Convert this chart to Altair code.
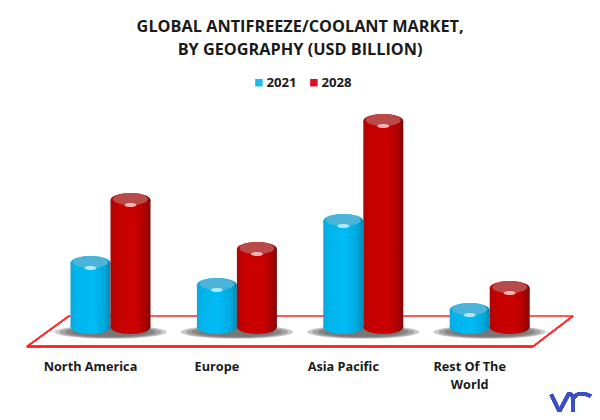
import altair as alt
import pandas as pd

regions = ["North America", "Europe", "Asia Pacific", "Rest Of The World"]
v2021 = [6.4, 4.2, 10.6, 1.7]
v2028 = [12.7, 7.8, 20.6, 3.9]
zeros = [0, 0, 0, 0]
years = ["2021", "2028"]

rows = [{"region": r, "year": "2021", "value": v, "base": z} for r, v, z in zip(regions, v2021, zeros)]
rows += [{"region": r, "year": "2028", "value": v, "base": z} for r, v, z in zip(regions, v2028, zeros)]
df = pd.DataFrame(rows)

FONT = "Open Sans"
ELL = "M-1,0 A1,.35 0 1,1 1,0 A1,.35 0 1,1 -1,0 Z"
SHADOW = "M-1,0 A1,.12 0 1,1 1,0 A1,.12 0 1,1 -1,0 Z"
LOGO = "M-.99,-.43 L-.58,.42 L-.13,-.43 Q0,-.5 .1,-.3 L.1,.42 M.1,-.2 Q.3,-.52 .55,-.45 Q.8,-.48 .98,-.34"


def grad(stops):
    return alt.LinearGradient(
        gradient="linear", x1=0, x2=1, y1=0, y2=0,
        stops=[alt.GradientStop(offset=o, color=c) for o, c in stops],
    )


styles = {
    "2021": dict(
        body=grad([(0, "#12a4d4"), (0.12, "#00b4ec"), (0.55, "#00bcf6"), (0.85, "#00a8dc"), (1, "#0a86b0")]),
        cap="#4bb4d8",
        hi="#c8f2ff",
    ),
    "2028": dict(
        body=grad([(0, "#a80808"), (0.14, "#c40000"), (0.6, "#cc0000"), (0.85, "#b00000"), (1, "#7c0a0a")]),
        cap="#b84a4a",
        hi="#ffc8c8",
    ),
}

x = alt.X(
    "region:N",
    sort=regions,
    scale=alt.Scale(domain=regions, paddingInner=0.367, paddingOuter=0.1835),
    axis=alt.Axis(
        title=None, domain=False, ticks=False, labelAngle=0, labelPadding=33,
        labelOffset=-20, labelFont=FONT, labelFontWeight="bold", labelFontSize=12.7,
        labelColor="#1a1a1a", labelLimit=200, labelLineHeight=18,
        labelExpr="datum.label == 'Rest Of The World' ? ['Rest Of The', 'World'] : datum.label",
    ),
)
xo = alt.XOffset(
    "year:N", sort=years,
    scale=alt.Scale(domain=years, paddingInner=0, paddingOuter=0),
)
scale_y = alt.Scale(domain=[0, 22], nice=False)
y = alt.Y("value:Q", scale=scale_y, axis=None, stack=None)
y0 = alt.Y("base:Q", scale=scale_y, axis=None, stack=None)

base = alt.Chart(df)


def rule(x1, y1, x2, y2, color):
    return base.mark_rule(color=color, strokeWidth=1.5).encode(
        x=alt.value(x1), x2=alt.value(x2), y=alt.value(y1), y2=alt.value(y2)
    )


# page coordinates minus the plot origin (47.3, 107)
floor = [
    rule(21.7, 209, 525.7, 209, "#ff5a5a"),
    rule(21.7, 209, -20.3, 239.5, "#ff3030"),
    rule(-20.3, 239.5, 485.7, 239.5, "#ff2020"),
    rule(525.7, 209, 485.7, 239.5, "#ff3030"),
]

shadows = [
    base.mark_point(shape=SHADOW, filled=True, color="#707070", opacity=op, size=s, strokeWidth=0, yOffset=5)
    .encode(x=x, y=y0)
    for s, op in [(112**2, 0.2), (102**2, 0.25), (90**2, 0.35), (76**2, 0.4)]
]

layers = floor + shadows

for yr in years:
    st = styles[yr]
    sub = base.transform_filter(alt.datum.year == yr)
    layers += [
        sub.mark_point(shape=ELL, filled=True, color=st["body"], opacity=1, size=1600, strokeWidth=0)
        .encode(x=x, xOffset=xo, y=y0),
        sub.mark_bar(color=st["body"]).encode(x=x, xOffset=xo, y=y),
        sub.mark_point(shape=ELL, filled=True, color=st["body"], opacity=1, size=1600, strokeWidth=0)
        .encode(x=x, xOffset=xo, y=y),
        sub.mark_point(shape=ELL, filled=True, color=st["cap"], opacity=1, size=35**2, strokeWidth=0, yOffset=-1)
        .encode(x=x, xOffset=xo, y=y),
        sub.mark_point(shape=ELL, filled=True, color=st["hi"], opacity=0.85, size=12**2, strokeWidth=0, yOffset=5)
        .encode(x=x, xOffset=xo, y=y),
    ]

legend_layer = base.mark_bar(opacity=0).encode(
    x=x,
    xOffset=xo,
    y=y,
    color=alt.Color(
        "year:N",
        scale=alt.Scale(domain=years, range=["#1cbcec", "#dc1020"]),
        legend=alt.Legend(
            title=None, orient="none", legendX=205, legendY=-31, direction="horizontal",
            symbolType="square", symbolSize=56, symbolOpacity=1, symbolStrokeWidth=0,
            labelFont=FONT, labelFontWeight="bold", labelFontSize=13.2, labelColor="#1a1a1a",
            columnPadding=10, labelOffset=1,
        ),
    ),
)
layers.append(legend_layer)

# the logo sits in the bottom-right corner of the picture
logo = base.mark_point(shape=LOGO, filled=False, color="#3b50c8", opacity=1, size=40**2, strokeWidth=3.5).encode(
    x=alt.value(523.7), y=alt.value(296)
)
layers.append(logo)

chart = (
    alt.layer(*layers)
    .properties(
        width=505.6,
        height=220,
        background="white",
        padding={"left": 39.3, "top": 99, "right": 39.1, "bottom": 85},
        autosize=alt.AutoSizeParams(type="none"),
        title=alt.TitleParams(
            ["GLOBAL ANTIFREEZE/COOLANT MARKET,", "BY GEOGRAPHY (USD BILLION)"],
            font=FONT, fontWeight="bold", fontSize=16.3, color="#1a1a1a",
            anchor="middle", offset=18, lineHeight=23,
        ),
    )
    .configure_view(stroke=None)
)

chart.save("out.html", embed_options={"renderer": "svg", "actions": False})
